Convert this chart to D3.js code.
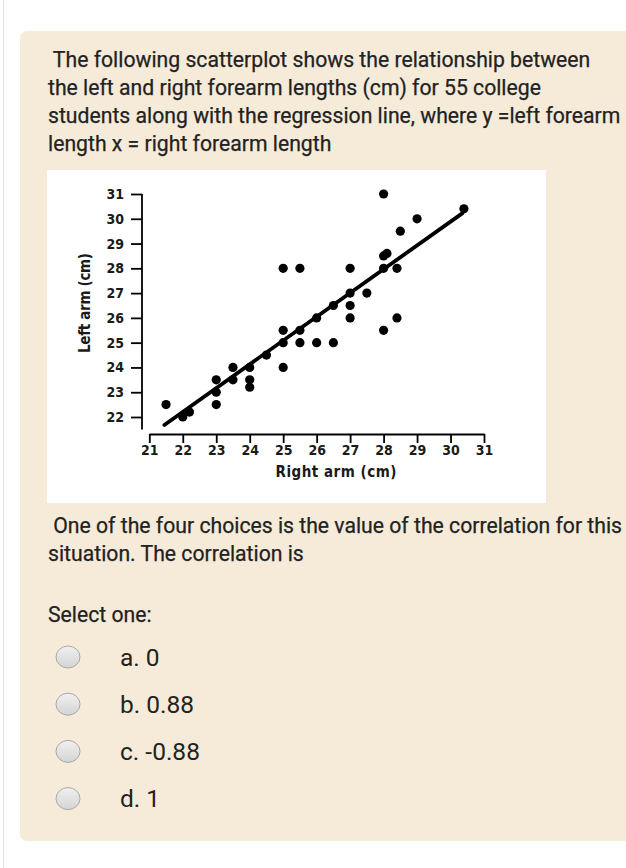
<!DOCTYPE html>
<html>
<head>
<meta charset="utf-8">
<script src="https://cdn.jsdelivr.net/npm/d3@7"></script>
<style>
  body { margin: 0; background: #fff; }
  svg { display: block; }
</style>
</head>
<body>
<svg id="page"></svg>
<script>
// forearm lengths (cm)
const rightArm = [21.5, 22, 22.2, 23, 23, 23, 23.5, 23.5, 24, 24, 24, 24.5, 25, 25, 25,
  25.5, 25.5, 26, 26.5, 26, 26.5, 25, 25.5, 27, 27, 27.5, 27, 27, 28, 28.4,
  28, 28.4, 28, 28.1, 28.5, 29, 28, 30.4];
const leftArm = [22.5, 22, 22.2, 23.5, 23, 22.5, 24, 23.5, 24, 23.5, 23.2, 24.5, 24, 25, 25.5,
  25, 25.5, 25, 25, 26, 26.5, 28, 28, 28, 27, 27, 26.5, 26, 25.5, 26,
  28, 28, 28.5, 28.6, 29.5, 30, 31, 30.4];

// regression line end points
const fitX = [21.45, 30.35];
const fitY = [21.68, 30.22];

const xTicks = [21, 22, 23, 24, 25, 26, 27, 28, 29, 30, 31];
const yTicks = [22, 23, 24, 25, 26, 27, 28, 29, 30, 31];

const questionLines = [
  " The following scatterplot shows the relationship between",
  "the left and right forearm lengths (cm) for 55 college",
  "students along with the regression line, where y =left forearm",
  "length x = right forearm length"
];
const promptLines = [
  " One of the four choices is the value of the correlation for this",
  "situation. The correlation is"
];
const choices = ["a. 0", "b. 0.88", "c. -0.88", "d. 1"];

const W = 626, H = 868;
const svg = d3.select("#page").attr("width", W).attr("height", H);

// page border + card
svg.append("line")
  .attr("x1", 3.5).attr("x2", 3.5).attr("y1", 0).attr("y2", H)
  .attr("stroke", "#e2e2e2").attr("stroke-width", 1);

svg.append("rect")
  .attr("x", 20).attr("y", 31)
  .attr("width", 640).attr("height", 810)
  .attr("rx", 7)
  .attr("fill", "#f6ebd9");

const textFont = "Roboto, 'Noto Sans', sans-serif";

function bodyText(sel) {
  return sel
    .attr("xml:space", "preserve")
    .style("font-family", textFont)
    .style("font-size", "21.2px")
    .attr("fill", "#222")
    .attr("stroke", "#222")
    .attr("stroke-width", 0.25);
}

svg.append("g").selectAll("text")
  .data(questionLines)
  .enter()
  .append("text")
  .attr("x", 48)
  .attr("y", (d, i) => 67 + i * 28)
  .call(bodyText)
  .text(d => d);

// white chart panel
svg.append("rect")
  .attr("x", 47).attr("y", 170)
  .attr("width", 499).attr("height", 333)
  .attr("fill", "#fff");

const xScale = d3.scaleLinear().domain([21, 31]).range([149.3, 484]);
const yScale = d3.scaleLinear().domain([22, 31]).range([417, 194]);

const tickFont = "'DejaVu Sans Condensed', 'Liberation Sans Narrow', Arial, sans-serif";

const yAxis = d3.axisLeft(yScale)
  .tickValues(yTicks)
  .tickSize(11)
  .tickPadding(7)
  .tickSizeOuter(0);

const gy = svg.append("g")
  .attr("transform", "translate(142, 0)")
  .call(yAxis);
gy.select(".domain").remove();
gy.append("line")
  .attr("x1", 0).attr("x2", 0)
  .attr("y1", yScale(31)).attr("y2", yScale(21.5))
  .attr("stroke", "#000").attr("stroke-width", 1.8);

const xAxis = d3.axisBottom(xScale)
  .tickValues(xTicks)
  .tickSize(9)
  .tickPadding(2)
  .tickSizeOuter(0);

const gx = svg.append("g")
  .attr("transform", "translate(0, 434)")
  .call(xAxis);

[gx, gy].forEach(g => {
  g.selectAll("line").attr("stroke", "#000").attr("stroke-width", 1.8);
  g.select(".domain").attr("stroke", "#000").attr("stroke-width", 1.8);
  g.selectAll("text")
    .style("font-family", tickFont)
    .style("font-size", "14px")
    .style("font-weight", "bold")
    .attr("fill", "#1a1a1a");
});

svg.append("text")
  .attr("x", 336).attr("y", 477)
  .attr("text-anchor", "middle")
  .attr("textLength", 121)
  .style("font-family", tickFont)
  .style("font-size", "15px")
  .style("font-weight", "bold")
  .attr("fill", "#1a1a1a")
  .text("Right arm (cm)");

svg.append("text")
  .attr("transform", "translate(90, 303) rotate(-90)")
  .attr("text-anchor", "middle")
  .attr("textLength", 100)
  .style("font-family", tickFont)
  .style("font-size", "15px")
  .style("font-weight", "bold")
  .attr("fill", "#1a1a1a")
  .text("Left arm (cm)");

// regression line
svg.append("line")
  .attr("x1", xScale(fitX[0])).attr("y1", yScale(fitY[0]))
  .attr("x2", xScale(fitX[1])).attr("y2", yScale(fitY[1]))
  .attr("stroke", "#000")
  .attr("stroke-width", 3.8)
  .attr("stroke-linecap", "round");

// points
svg.append("g").selectAll("circle")
  .data(rightArm)
  .enter()
  .append("circle")
  .attr("cx", d => xScale(d))
  .attr("cy", (d, i) => yScale(leftArm[i]))
  .attr("r", 4.6)
  .attr("fill", "#000");

svg.append("g").selectAll("text")
  .data(promptLines)
  .enter()
  .append("text")
  .attr("x", 48)
  .attr("y", (d, i) => 533 + i * 28)
  .call(bodyText)
  .text(d => d);

svg.append("text")
  .attr("x", 48).attr("y", 622)
  .call(bodyText)
  .text("Select one:");

// radio buttons
const defs = svg.append("defs");
const grad = defs.append("linearGradient")
  .attr("id", "radioFill")
  .attr("x1", 0).attr("y1", 0).attr("x2", 0).attr("y2", 1);
grad.append("stop").attr("offset", "0%").attr("stop-color", "#f0f0f0");
grad.append("stop").attr("offset", "100%").attr("stop-color", "#d4d4d4");

const opt = svg.append("g").selectAll("g")
  .data(choices)
  .enter()
  .append("g")
  .attr("transform", (d, i) => `translate(0, ${657 + i * 47.2})`);

opt.append("ellipse")
  .attr("cx", 68).attr("cy", 0)
  .attr("rx", 12).attr("ry", 11)
  .attr("fill", "url(#radioFill)")
  .attr("stroke", "#a8a8a8")
  .attr("stroke-width", 1);

opt.append("text")
  .attr("x", 120).attr("y", 8.5)
  .style("font-family", textFont)
  .style("font-size", "24.5px")
  .attr("fill", "#222")
  .text(d => d);
</script>
</body>
</html>
